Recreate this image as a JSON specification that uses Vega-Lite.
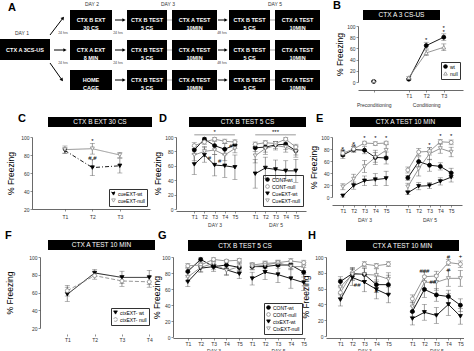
{
"$schema": "https://vega.github.io/schema/vega-lite/v6.json",
"padding": 0,
"background": "white",
"spacing": 3,
"resolve": {"scale": {"stroke": "independent", "fill": "independent", "shape": "independent", "strokeDash": "independent"}},
"config": {
 "font": "Liberation Sans",
 "view": {"stroke": null},
 "axis": {"grid": false, "labelFontSize": 5, "labelColor": "#333", "titleFontSize": 8.5, "titleFontWeight": "normal", "titleColor": "#000", "tickSize": 2, "labelPadding": 1, "titlePadding": 2, "domainColor": "#444", "tickColor": "#444", "domainWidth": 0.8, "tickWidth": 0.6, "labelLineHeight": 8},
 "legend": {"orient": "bottom-right", "labelFontSize": 5, "symbolSize": 14, "rowPadding": 0, "padding": 2, "strokeColor": "#333", "offset": 3, "symbolStrokeWidth": 0.8, "labelOffset": 2}
},
"datasets": {
 "Abox": [
  {"x1":0,"x2":50,"y1":39,"y2":60,"xm":25,"ym":49.5,"label":"CTX A 3CS-US"},
  {"x1":70,"x2":112,"y1":10,"y2":30,"xm":91,"ym":20,"label":"CTX B EXT\n30 CS"},
  {"x1":127,"x2":167,"y1":10,"y2":30,"xm":147,"ym":20,"label":"CTX B TEST\n5 CS"},
  {"x1":172,"x2":217,"y1":10,"y2":30,"xm":194.5,"ym":20,"label":"CTX A TEST\n10MIN"},
  {"x1":229,"x2":270,"y1":10,"y2":30,"xm":249.5,"ym":20,"label":"CTX B TEST\n5 CS"},
  {"x1":275,"x2":320,"y1":10,"y2":30,"xm":297.5,"ym":20,"label":"CTX A TEST\n10MIN"},
  {"x1":70,"x2":112,"y1":40,"y2":60,"xm":91,"ym":50,"label":"CTX A EXT\n8 MIN"},
  {"x1":127,"x2":167,"y1":40,"y2":60,"xm":147,"ym":50,"label":"CTX B TEST\n5 CS"},
  {"x1":172,"x2":217,"y1":40,"y2":60,"xm":194.5,"ym":50,"label":"CTX A TEST\n10MIN"},
  {"x1":229,"x2":270,"y1":40,"y2":60,"xm":249.5,"ym":50,"label":"CTX B TEST\n5 CS"},
  {"x1":275,"x2":320,"y1":40,"y2":60,"xm":297.5,"ym":50,"label":"CTX A TEST\n10MIN"},
  {"x1":70,"x2":112,"y1":70,"y2":90,"xm":91,"ym":80,"label":"HOME\nCAGE"},
  {"x1":127,"x2":167,"y1":70,"y2":90,"xm":147,"ym":80,"label":"CTX B TEST\n5 CS"},
  {"x1":172,"x2":217,"y1":70,"y2":90,"xm":194.5,"ym":80,"label":"CTX A TEST\n10MIN"},
  {"x1":229,"x2":270,"y1":70,"y2":90,"xm":249.5,"ym":80,"label":"CTX B TEST\n5 CS"},
  {"x1":275,"x2":320,"y1":70,"y2":90,"xm":297.5,"ym":80,"label":"CTX A TEST\n10MIN"}
 ],
 "Aarrow": [
  {"x1":50,"y1":35,"x2":63,"y2":18,"ang":38},
  {"x1":54,"y1":50,"x2":65,"y2":50,"ang":90},
  {"x1":50,"y1":63,"x2":62,"y2":80,"ang":144},
  {"x1":115,"y1":20,"x2":124,"y2":20,"ang":90},
  {"x1":115,"y1":50,"x2":124,"y2":50,"ang":90},
  {"x1":115,"y1":80,"x2":124,"y2":80,"ang":90},
  {"x1":218,"y1":20,"x2":226,"y2":20,"ang":90},
  {"x1":218,"y1":50,"x2":226,"y2":50,"ang":90},
  {"x1":218,"y1":80,"x2":226,"y2":80,"ang":90}
 ],
 "Aconn": [
  {"x1":167,"y1":20,"x2":172,"y2":20},
  {"x1":167,"y1":50,"x2":172,"y2":50},
  {"x1":167,"y1":80,"x2":172,"y2":80},
  {"x1":270,"y1":20,"x2":275,"y2":20},
  {"x1":270,"y1":50,"x2":275,"y2":50},
  {"x1":270,"y1":80,"x2":275,"y2":80}
 ],
 "Aday": [
  {"x":22,"y":33,"t":"DAY 1"},{"x":92,"y":3.5,"t":"DAY 2"},{"x":168,"y":3.5,"t":"DAY 3"},{"x":275,"y":3.5,"t":"DAY 5"}
 ],
 "Ahrs": [
  {"x":63,"y":33,"t":"24 hrs"},{"x":118,"y":33,"t":"24 hrs"},{"x":222,"y":33,"t":"48 hrs"},
  {"x":63,"y":63,"t":"24 hrs"},{"x":118,"y":63,"t":"24 hrs"},{"x":222,"y":63,"t":"48 hrs"}
 ],
 "B": [
  {"g":"wt","p":"pre","x":0,"m":1,"e":0.5},
  {"g":"wt","p":"cond","x":2,"m":5,"e":1.5},
  {"g":"wt","p":"cond","x":3,"m":65,"e":6},
  {"g":"wt","p":"cond","x":4,"m":80,"e":6},
  {"g":"null","p":"pre","x":0,"m":2,"e":0.5},
  {"g":"null","p":"cond","x":2,"m":8,"e":2},
  {"g":"null","p":"cond","x":3,"m":52,"e":5},
  {"g":"null","p":"cond","x":4,"m":62,"e":6}
 ],
 "C": [
  {"g":"cueEXT-wt","x":1,"m":85,"e":3},
  {"g":"cueEXT-wt","x":2,"m":66,"e":9},
  {"g":"cueEXT-wt","x":3,"m":68,"e":8},
  {"g":"cueEXT-null","x":1,"m":86,"e":4},
  {"g":"cueEXT-null","x":2,"m":87,"e":6},
  {"g":"cueEXT-null","x":3,"m":80,"e":3}
 ],
 "F": [
  {"g":"ctxEXT- wt","x":1,"m":58,"e":8},
  {"g":"ctxEXT- wt","x":2,"m":82,"e":4},
  {"g":"ctxEXT- wt","x":3,"m":77,"e":7},
  {"g":"ctxEXT- wt","x":4,"m":77,"e":8},
  {"g":"ctxEXT- null","x":1,"m":62,"e":6},
  {"g":"ctxEXT- null","x":2,"m":79,"e":4},
  {"g":"ctxEXT- null","x":3,"m":73,"e":6},
  {"g":"ctxEXT- null","x":4,"m":72,"e":6}
 ],
 "D": [
  {"g":"CONT-wt","d":3,"x":1,"m":82,"e":5},{"g":"CONT-wt","d":3,"x":2,"m":97,"e":2},{"g":"CONT-wt","d":3,"x":3,"m":88,"e":6},{"g":"CONT-wt","d":3,"x":4,"m":83,"e":8},{"g":"CONT-wt","d":3,"x":5,"m":89,"e":5},
  {"g":"CONT-null","d":3,"x":1,"m":88,"e":4},{"g":"CONT-null","d":3,"x":2,"m":93,"e":3},{"g":"CONT-null","d":3,"x":3,"m":97,"e":2},{"g":"CONT-null","d":3,"x":4,"m":94,"e":3},{"g":"CONT-null","d":3,"x":5,"m":93,"e":3},
  {"g":"CueEXT-wt","d":3,"x":1,"m":62,"e":14},{"g":"CueEXT-wt","d":3,"x":2,"m":75,"e":10},{"g":"CueEXT-wt","d":3,"x":3,"m":61,"e":15},{"g":"CueEXT-wt","d":3,"x":4,"m":60,"e":16},{"g":"CueEXT-wt","d":3,"x":5,"m":58,"e":17},
  {"g":"CueEXT-null","d":3,"x":1,"m":75,"e":8},{"g":"CueEXT-null","d":3,"x":2,"m":80,"e":7},{"g":"CueEXT-null","d":3,"x":3,"m":82,"e":6},{"g":"CueEXT-null","d":3,"x":4,"m":75,"e":8},{"g":"CueEXT-null","d":3,"x":5,"m":84,"e":6},
  {"g":"CONT-wt","d":5,"x":7,"m":85,"e":5},{"g":"CONT-wt","d":5,"x":8,"m":86,"e":7},{"g":"CONT-wt","d":5,"x":9,"m":89,"e":5},{"g":"CONT-wt","d":5,"x":10,"m":90,"e":7},{"g":"CONT-wt","d":5,"x":11,"m":81,"e":6},
  {"g":"CONT-null","d":5,"x":7,"m":90,"e":3},{"g":"CONT-null","d":5,"x":8,"m":92,"e":3},{"g":"CONT-null","d":5,"x":9,"m":91,"e":3},{"g":"CONT-null","d":5,"x":10,"m":97,"e":2},{"g":"CONT-null","d":5,"x":11,"m":86,"e":4},
  {"g":"CueEXT-wt","d":5,"x":7,"m":49,"e":20},{"g":"CueEXT-wt","d":5,"x":8,"m":57,"e":15},{"g":"CueEXT-wt","d":5,"x":9,"m":55,"e":13},{"g":"CueEXT-wt","d":5,"x":10,"m":53,"e":14},{"g":"CueEXT-wt","d":5,"x":11,"m":53,"e":16},
  {"g":"CueEXT-null","d":5,"x":7,"m":74,"e":10},{"g":"CueEXT-null","d":5,"x":8,"m":84,"e":8},{"g":"CueEXT-null","d":5,"x":9,"m":88,"e":6},{"g":"CueEXT-null","d":5,"x":10,"m":86,"e":7},{"g":"CueEXT-null","d":5,"x":11,"m":80,"e":8}
 ],
 "E": [
  {"g":"CONT-wt","d":3,"x":1,"m":70,"e":6},{"g":"CONT-wt","d":3,"x":2,"m":79,"e":5},{"g":"CONT-wt","d":3,"x":3,"m":78,"e":6},{"g":"CONT-wt","d":3,"x":4,"m":66,"e":8},{"g":"CONT-wt","d":3,"x":5,"m":65,"e":10},
  {"g":"CONT-null","d":3,"x":1,"m":73,"e":5},{"g":"CONT-null","d":3,"x":2,"m":80,"e":4},{"g":"CONT-null","d":3,"x":3,"m":90,"e":3},{"g":"CONT-null","d":3,"x":4,"m":89,"e":3},{"g":"CONT-null","d":3,"x":5,"m":90,"e":3},
  {"g":"CueEXT-wt","d":3,"x":1,"m":2,"e":2},{"g":"CueEXT-wt","d":3,"x":2,"m":19,"e":6},{"g":"CueEXT-wt","d":3,"x":3,"m":27,"e":8},{"g":"CueEXT-wt","d":3,"x":4,"m":29,"e":10},{"g":"CueEXT-wt","d":3,"x":5,"m":31,"e":12},
  {"g":"CueEXT-null","d":3,"x":1,"m":17,"e":5},{"g":"CueEXT-null","d":3,"x":2,"m":30,"e":8},{"g":"CueEXT-null","d":3,"x":3,"m":51,"e":10},{"g":"CueEXT-null","d":3,"x":4,"m":66,"e":12},{"g":"CueEXT-null","d":3,"x":5,"m":78,"e":10},
  {"g":"CONT-wt","d":5,"x":7,"m":32,"e":4},{"g":"CONT-wt","d":5,"x":8,"m":59,"e":8},{"g":"CONT-wt","d":5,"x":9,"m":53,"e":10},{"g":"CONT-wt","d":5,"x":10,"m":51,"e":6},{"g":"CONT-wt","d":5,"x":11,"m":40,"e":8},
  {"g":"CONT-null","d":5,"x":7,"m":45,"e":5},{"g":"CONT-null","d":5,"x":8,"m":75,"e":6},{"g":"CONT-null","d":5,"x":9,"m":76,"e":6},{"g":"CONT-null","d":5,"x":10,"m":92,"e":4},{"g":"CONT-null","d":5,"x":11,"m":91,"e":4},
  {"g":"CueEXT-wt","d":5,"x":7,"m":7,"e":3},{"g":"CueEXT-wt","d":5,"x":8,"m":18,"e":6},{"g":"CueEXT-wt","d":5,"x":9,"m":19,"e":5},{"g":"CueEXT-wt","d":5,"x":10,"m":26,"e":6},{"g":"CueEXT-wt","d":5,"x":11,"m":33,"e":8},
  {"g":"CueEXT-null","d":5,"x":7,"m":17,"e":6},{"g":"CueEXT-null","d":5,"x":8,"m":47,"e":12},{"g":"CueEXT-null","d":5,"x":9,"m":72,"e":10},{"g":"CueEXT-null","d":5,"x":10,"m":81,"e":8},{"g":"CueEXT-null","d":5,"x":11,"m":75,"e":8}
 ],
 "G": [
  {"g":"CONT-wt","d":3,"x":1,"m":82,"e":5},{"g":"CONT-wt","d":3,"x":2,"m":97,"e":2},{"g":"CONT-wt","d":3,"x":3,"m":88,"e":4},{"g":"CONT-wt","d":3,"x":4,"m":90,"e":5},{"g":"CONT-wt","d":3,"x":5,"m":87,"e":5},
  {"g":"CONT-null","d":3,"x":1,"m":89,"e":3},{"g":"CONT-null","d":3,"x":2,"m":90,"e":3},{"g":"CONT-null","d":3,"x":3,"m":97,"e":2},{"g":"CONT-null","d":3,"x":4,"m":95,"e":2},{"g":"CONT-null","d":3,"x":5,"m":96,"e":2},
  {"g":"ctxEXT-wt","d":3,"x":1,"m":69,"e":6},{"g":"ctxEXT-wt","d":3,"x":2,"m":86,"e":5},{"g":"ctxEXT-wt","d":3,"x":3,"m":88,"e":6},{"g":"ctxEXT-wt","d":3,"x":4,"m":84,"e":6},{"g":"ctxEXT-wt","d":3,"x":5,"m":79,"e":6},
  {"g":"CtxEXT-null","d":3,"x":1,"m":75,"e":6},{"g":"CtxEXT-null","d":3,"x":2,"m":87,"e":5},{"g":"CtxEXT-null","d":3,"x":3,"m":92,"e":4},{"g":"CtxEXT-null","d":3,"x":4,"m":83,"e":6},{"g":"CtxEXT-null","d":3,"x":5,"m":88,"e":5},
  {"g":"CONT-wt","d":5,"x":6,"m":88,"e":4},{"g":"CONT-wt","d":5,"x":7,"m":88,"e":5},{"g":"CONT-wt","d":5,"x":8,"m":90,"e":4},{"g":"CONT-wt","d":5,"x":9,"m":90,"e":4},{"g":"CONT-wt","d":5,"x":10,"m":81,"e":6},
  {"g":"CONT-null","d":5,"x":6,"m":90,"e":3},{"g":"CONT-null","d":5,"x":7,"m":92,"e":3},{"g":"CONT-null","d":5,"x":8,"m":93,"e":3},{"g":"CONT-null","d":5,"x":9,"m":95,"e":3},{"g":"CONT-null","d":5,"x":10,"m":93,"e":3},
  {"g":"ctxEXT-wt","d":5,"x":6,"m":73,"e":8},{"g":"ctxEXT-wt","d":5,"x":7,"m":81,"e":9},{"g":"ctxEXT-wt","d":5,"x":8,"m":78,"e":10},{"g":"ctxEXT-wt","d":5,"x":9,"m":73,"e":12},{"g":"ctxEXT-wt","d":5,"x":10,"m":68,"e":10},
  {"g":"CtxEXT-null","d":5,"x":6,"m":88,"e":4},{"g":"CtxEXT-null","d":5,"x":7,"m":90,"e":4},{"g":"CtxEXT-null","d":5,"x":8,"m":93,"e":3},{"g":"CtxEXT-null","d":5,"x":9,"m":88,"e":4},{"g":"CtxEXT-null","d":5,"x":10,"m":88,"e":5}
 ],
 "H": [
  {"g":"CONT-wt","d":3,"x":1,"m":69,"e":6},{"g":"CONT-wt","d":3,"x":2,"m":79,"e":8},{"g":"CONT-wt","d":3,"x":3,"m":78,"e":8},{"g":"CONT-wt","d":3,"x":4,"m":65,"e":10},{"g":"CONT-wt","d":3,"x":5,"m":65,"e":12},
  {"g":"CONT-null","d":3,"x":1,"m":55,"e":6},{"g":"CONT-null","d":3,"x":2,"m":80,"e":5},{"g":"CONT-null","d":3,"x":3,"m":91,"e":3},{"g":"CONT-null","d":3,"x":4,"m":89,"e":3},{"g":"CONT-null","d":3,"x":5,"m":91,"e":3},
  {"g":"ctxEXT-wt","d":3,"x":1,"m":46,"e":8},{"g":"ctxEXT-wt","d":3,"x":2,"m":74,"e":10},{"g":"ctxEXT-wt","d":3,"x":3,"m":68,"e":12},{"g":"ctxEXT-wt","d":3,"x":4,"m":59,"e":12},{"g":"ctxEXT-wt","d":3,"x":5,"m":52,"e":10},
  {"g":"CtxEXT-null","d":3,"x":1,"m":62,"e":10},{"g":"CtxEXT-null","d":3,"x":2,"m":78,"e":8},{"g":"CtxEXT-null","d":3,"x":3,"m":78,"e":8},{"g":"CtxEXT-null","d":3,"x":4,"m":77,"e":8},{"g":"CtxEXT-null","d":3,"x":5,"m":72,"e":8},
  {"g":"CONT-wt","d":5,"x":7,"m":31,"e":6},{"g":"CONT-wt","d":5,"x":8,"m":59,"e":10},{"g":"CONT-wt","d":5,"x":9,"m":52,"e":8},{"g":"CONT-wt","d":5,"x":10,"m":50,"e":8},{"g":"CONT-wt","d":5,"x":11,"m":39,"e":8},
  {"g":"CONT-null","d":5,"x":7,"m":47,"e":5},{"g":"CONT-null","d":5,"x":8,"m":75,"e":6},{"g":"CONT-null","d":5,"x":9,"m":76,"e":6},{"g":"CONT-null","d":5,"x":10,"m":93,"e":4},{"g":"CONT-null","d":5,"x":11,"m":91,"e":4},
  {"g":"ctxEXT-wt","d":5,"x":7,"m":22,"e":8},{"g":"ctxEXT-wt","d":5,"x":8,"m":30,"e":10},{"g":"ctxEXT-wt","d":5,"x":9,"m":26,"e":10},{"g":"ctxEXT-wt","d":5,"x":10,"m":40,"e":14},{"g":"ctxEXT-wt","d":5,"x":11,"m":25,"e":10},
  {"g":"CtxEXT-null","d":5,"x":7,"m":37,"e":6},{"g":"CtxEXT-null","d":5,"x":8,"m":68,"e":8},{"g":"CtxEXT-null","d":5,"x":9,"m":68,"e":10},{"g":"CtxEXT-null","d":5,"x":10,"m":73,"e":10},{"g":"CtxEXT-null","d":5,"x":11,"m":73,"e":10}
 ]
},
"vconcat": [
 {"spacing": 28, "bounds": "flush", "resolve": {"scale": {"stroke": "independent", "fill": "independent", "shape": "independent", "strokeDash": "independent"}},
  "hconcat": [
  {"width": 330, "height": 84,
   "layer": [
    {"data": {"name": "Abox"}, "mark": {"type": "rect", "color": "black"},
     "encoding": {"x": {"field": "x1", "type": "quantitative", "scale": {"domain": [0, 330], "nice": false, "zero": false}, "axis": null}, "x2": {"field": "x2"},
      "y": {"field": "y1", "type": "quantitative", "scale": {"domain": [26, 110], "reverse": true, "nice": false, "zero": false}, "axis": null}, "y2": {"field": "y2"}}},
    {"data": {"name": "Abox"}, "mark": {"type": "text", "color": "white", "fontSize": 5.5, "fontWeight": "bold", "lineBreak": "\n", "lineHeight": 7.5, "baseline": "middle"},
     "encoding": {"x": {"field": "xm", "type": "quantitative"}, "y": {"field": "ym", "type": "quantitative"}, "text": {"field": "label"}}},
    {"data": {"name": "Aarrow"}, "mark": {"type": "rule", "color": "black", "strokeWidth": 1},
     "encoding": {"x": {"field": "x1", "type": "quantitative"}, "y": {"field": "y1", "type": "quantitative"}, "x2": {"field": "x2"}, "y2": {"field": "y2"}}},
    {"data": {"name": "Aarrow"}, "mark": {"type": "point", "shape": "triangle-up", "filled": true, "color": "black", "size": 14, "opacity": 1},
     "encoding": {"x": {"field": "x2", "type": "quantitative"}, "y": {"field": "y2", "type": "quantitative"}, "angle": {"field": "ang", "type": "quantitative", "scale": null}}},
    {"data": {"name": "Aconn"}, "mark": {"type": "rule", "color": "#888", "strokeWidth": 0.7},
     "encoding": {"x": {"field": "x1", "type": "quantitative"}, "y": {"field": "y1", "type": "quantitative"}, "x2": {"field": "x2"}, "y2": {"field": "y2"}}},
    {"data": {"name": "Aday"}, "mark": {"type": "text", "fontSize": 5, "color": "#333", "baseline": "middle"},
     "encoding": {"x": {"field": "x", "type": "quantitative"}, "y": {"field": "y", "type": "quantitative"}, "text": {"field": "t"}}},
    {"data": {"name": "Ahrs"}, "mark": {"type": "text", "fontSize": 3.5, "color": "#444", "baseline": "middle"},
     "encoding": {"x": {"field": "x", "type": "quantitative"}, "y": {"field": "y", "type": "quantitative"}, "text": {"field": "t"}}},
    {"data": {"values": [{"x": 8, "y": 8, "t": "A"}]}, "mark": {"type": "text", "fontSize": 11, "fontWeight": "bold", "align": "left", "baseline": "middle"},
     "encoding": {"x": {"field": "x", "type": "quantitative"}, "y": {"field": "y", "type": "quantitative"}, "text": {"field": "t"}}}
   ]},
  {"width": 105, "height": 56,
   "resolve": {"scale": {"x": "independent", "y": "independent"}},
   "layer": [
    {"data": {"name": "B"},
     "encoding": {
      "x": {"field": "x", "type": "quantitative", "scale": {"domain": [-0.9, 5.1], "nice": false, "zero": false}, "axis": {"values": [0, 2, 3, 4], "labelExpr": "datum.value == 0 ? ['', 'Preconditioning'] : datum.value == 3 ? ['T2', 'Conditioning'] : 'T' + (datum.value - 1)", "title": null, "offset": 8, "labelLineHeight": 9}},
      "y": {"field": "m", "type": "quantitative", "scale": {"domain": [0, 100], "nice": false}, "axis": {"values": [0, 20, 40, 60, 80, 100], "title": "% Freezing"}}},
     "layer": [
      {"mark": {"type": "errorbar", "ticks": true, "color": "#555", "thickness": 0.6}, "encoding": {"yError": {"field": "e"}}},
      {"mark": {"type": "line", "strokeWidth": 0.9}, "encoding": {"detail": {"field": "p"}, "stroke": {"field": "g", "type": "nominal", "scale": {"domain": ["wt", "null"], "range": ["#000", "#8a8a8a"]}, "legend": {"title": null}}}},
      {"mark": {"type": "point", "size": 16, "strokeWidth": 0.8, "opacity": 1}, "encoding": {
       "stroke": {"field": "g", "type": "nominal", "scale": {"domain": ["wt", "null"], "range": ["#000", "#8a8a8a"]}, "legend": {"title": null}},
       "fill": {"field": "g", "type": "nominal", "scale": {"domain": ["wt", "null"], "range": ["#000", "#fff"]}, "legend": {"title": null}},
       "shape": {"field": "g", "type": "nominal", "scale": {"domain": ["wt", "null"], "range": ["circle", "triangle-up"]}, "legend": {"title": null}}}},
      {"data": {"values": [{"x": 3, "m": 75, "t": "*"}, {"x": 4, "m": 97, "t": "*"}, {"x": 4, "m": 90, "t": "*"}]}, "mark": {"type": "text", "fontSize": 6}, "encoding": {"text": {"field": "t"}}}
     ]},
    {"data": {"values": [{"lx": -25, "ly": -20, "a": "B", "x1": 5, "x2": 82, "y1": -16, "y2": -6, "xm": 43.5, "ym": -11, "t": "CTX A 3 CS-US"}]},
     "layer": [
      {"mark": {"type": "rect", "color": "black"}, "encoding": {"x": {"field": "x1", "type": "quantitative", "scale": {"domain": [0, 105], "nice": false, "zero": false}, "axis": null}, "x2": {"field": "x2"}, "y": {"field": "y1", "type": "quantitative", "scale": {"domain": [0, 56], "reverse": true, "nice": false, "zero": false}, "axis": null}, "y2": {"field": "y2"}}},
      {"mark": {"type": "text", "color": "white", "fontSize": 6.5, "baseline": "middle"}, "encoding": {"x": {"field": "xm", "type": "quantitative", "scale": {"domain": [0, 105], "nice": false, "zero": false}, "axis": null}, "y": {"field": "ym", "type": "quantitative", "scale": {"domain": [0, 56], "reverse": true, "nice": false, "zero": false}, "axis": null}, "text": {"field": "t"}}},
      {"mark": {"type": "text", "fontSize": 11, "fontWeight": "bold", "align": "left", "baseline": "middle"}, "encoding": {"x": {"field": "lx", "type": "quantitative", "scale": {"domain": [0, 105], "nice": false, "zero": false}, "axis": null}, "y": {"field": "ly", "type": "quantitative", "scale": {"domain": [0, 56], "reverse": true, "nice": false, "zero": false}, "axis": null}, "text": {"field": "a"}}}
     ]}
   ]}
 ]},
 {"spacing": 26, "bounds": "flush", "resolve": {"scale": {"stroke": "independent", "fill": "independent", "shape": "independent", "strokeDash": "independent"}},
  "hconcat": [
  {"width": 6, "height": 1, "data": {"values": [{}]}, "mark": {"type": "point", "opacity": 0}},
  {"width": 118, "height": 72,
   "resolve": {"scale": {"x": "independent", "y": "independent"}},
   "layer": [
    {"data": {"name": "C"},
     "encoding": {
      "x": {"field": "x", "type": "quantitative", "scale": {"domain": [-0.2, 4.1], "nice": false, "zero": false}, "axis": {"values": [1, 2, 3], "labelExpr": "'T' + datum.value", "title": null, "labelPadding": 3}},
      "y": {"field": "m", "type": "quantitative", "scale": {"domain": [20, 100], "nice": false, "zero": false}, "axis": {"values": [20, 40, 60, 80, 100], "title": "% Freezing", "titlePadding": 5}}},
     "layer": [
      {"mark": {"type": "errorbar", "ticks": true, "color": "#555", "thickness": 0.6}, "encoding": {"yError": {"field": "e"}}},
      {"mark": {"type": "line", "strokeWidth": 0.9}, "encoding": {
       "stroke": {"field": "g", "type": "nominal", "scale": {"domain": ["cueEXT-wt", "cueEXT-null"], "range": ["#000", "#8a8a8a"]}, "legend": {"title": null}},
       "strokeDash": {"field": "g", "type": "nominal", "scale": {"domain": ["cueEXT-wt", "cueEXT-null"], "range": [[4, 2, 1, 2], [1, 0]]}, "legend": {"title": null}}}},
      {"mark": {"type": "point", "size": 16, "strokeWidth": 0.8, "opacity": 1}, "encoding": {
       "stroke": {"field": "g", "type": "nominal", "scale": {"domain": ["cueEXT-wt", "cueEXT-null"], "range": ["#000", "#8a8a8a"]}, "legend": {"title": null}},
       "fill": {"field": "g", "type": "nominal", "scale": {"domain": ["cueEXT-wt", "cueEXT-null"], "range": ["#000", "#fff"]}, "legend": {"title": null}},
       "shape": {"field": "g", "type": "nominal", "scale": {"domain": ["cueEXT-wt", "cueEXT-null"], "range": ["triangle-down", "triangle-down"]}, "legend": {"title": null}}}},
      {"data": {"values": [{"x": 2, "m": 77, "t": "#,#"}, {"x": 2, "m": 96, "t": "*"}]}, "mark": {"type": "text", "fontSize": 6}, "encoding": {"text": {"field": "t"}}}
     ]},
    {"data": {"values": [{"lx": -14, "ly": -18, "a": "C", "x1": 16, "x2": 120, "y1": -20, "y2": -10, "xm": 68, "ym": -15, "t": "CTX B EXT 30 CS"}]},
     "layer": [
      {"mark": {"type": "rect", "color": "black"}, "encoding": {"x": {"field": "x1", "type": "quantitative", "scale": {"domain": [0, 118], "nice": false, "zero": false}, "axis": null}, "x2": {"field": "x2"}, "y": {"field": "y1", "type": "quantitative", "scale": {"domain": [0, 72], "reverse": true, "nice": false, "zero": false}, "axis": null}, "y2": {"field": "y2"}}},
      {"mark": {"type": "text", "color": "white", "fontSize": 6.5, "baseline": "middle"}, "encoding": {"x": {"field": "xm", "type": "quantitative", "scale": {"domain": [0, 118], "nice": false, "zero": false}, "axis": null}, "y": {"field": "ym", "type": "quantitative", "scale": {"domain": [0, 72], "reverse": true, "nice": false, "zero": false}, "axis": null}, "text": {"field": "t"}}},
      {"mark": {"type": "text", "fontSize": 11, "fontWeight": "bold", "align": "left", "baseline": "middle"}, "encoding": {"x": {"field": "lx", "type": "quantitative", "scale": {"domain": [0, 118], "nice": false, "zero": false}, "axis": null}, "y": {"field": "ly", "type": "quantitative", "scale": {"domain": [0, 72], "reverse": true, "nice": false, "zero": false}, "axis": null}, "text": {"field": "a"}}}
     ]}
   ]},
  {"width": 130, "height": 72,
   "resolve": {"scale": {"x": "independent", "y": "independent"}},
   "layer": [
    {"data": {"name": "D"},
     "encoding": {
      "x": {"field": "x", "type": "quantitative", "scale": {"domain": [-0.8, 12], "nice": false, "zero": false}, "axis": {"values": [1, 2, 3, 4, 5, 7, 8, 9, 10, 11], "labelExpr": "datum.value == 3 ? ['T3', 'DAY 3'] : datum.value == 9 ? ['T3', 'DAY 5'] : 'T' + (datum.value > 6 ? datum.value - 6 : datum.value)", "title": null, "offset": 2, "labelLineHeight": 8}},
      "y": {"field": "m", "type": "quantitative", "scale": {"domain": [0, 100], "nice": false}, "axis": {"values": [0, 20, 40, 60, 80, 100], "title": "% Freezing"}}},
     "layer": [
      {"mark": {"type": "errorbar", "ticks": true, "color": "#555", "thickness": 0.6}, "encoding": {"yError": {"field": "e"}}},
      {"mark": {"type": "line", "strokeWidth": 0.9}, "encoding": {"detail": {"field": "d"},
       "stroke": {"field": "g", "type": "nominal", "scale": {"domain": ["CONT-wt", "CONT-null", "CueEXT-wt", "CueEXT-null"], "range": ["#000", "#8a8a8a", "#000", "#8a8a8a"]}, "legend": {"title": null}}}},
      {"mark": {"type": "point", "size": 16, "strokeWidth": 0.8, "opacity": 1}, "encoding": {
       "stroke": {"field": "g", "type": "nominal", "scale": {"domain": ["CONT-wt", "CONT-null", "CueEXT-wt", "CueEXT-null"], "range": ["#000", "#8a8a8a", "#000", "#8a8a8a"]}, "legend": {"title": null}},
       "fill": {"field": "g", "type": "nominal", "scale": {"domain": ["CONT-wt", "CONT-null", "CueEXT-wt", "CueEXT-null"], "range": ["#000", "#fff", "#000", "#fff"]}, "legend": {"title": null}},
       "shape": {"field": "g", "type": "nominal", "scale": {"domain": ["CONT-wt", "CONT-null", "CueEXT-wt", "CueEXT-null"], "range": ["circle", "circle", "triangle-down", "triangle-down"]}, "legend": {"title": null}}}},
      {"data": {"values": [{"x": 1, "x2": 5, "m": 103}, {"x": 7, "x2": 11, "m": 103}]}, "mark": {"type": "rule", "color": "#555", "strokeWidth": 0.6}, "encoding": {"x2": {"field": "x2"}}},
      {"data": {"values": [{"x": 3, "m": 107, "t": "*"}, {"x": 9, "m": 107, "t": "***"}, {"x": 2.5, "m": 71, "t": "#"}, {"x": 3.5, "m": 67, "t": "#"}, {"x": 4.6, "m": 87, "t": "#"}]}, "mark": {"type": "text", "fontSize": 6}, "encoding": {"text": {"field": "t"}}}
     ]},
    {"data": {"values": [{"lx": -17, "ly": -18, "a": "D", "x1": 13, "x2": 130, "y1": -20, "y2": -10, "xm": 71.5, "ym": -15, "t": "CTX B TEST 5 CS"}]},
     "layer": [
      {"mark": {"type": "rect", "color": "black"}, "encoding": {"x": {"field": "x1", "type": "quantitative", "scale": {"domain": [0, 130], "nice": false, "zero": false}, "axis": null}, "x2": {"field": "x2"}, "y": {"field": "y1", "type": "quantitative", "scale": {"domain": [0, 72], "reverse": true, "nice": false, "zero": false}, "axis": null}, "y2": {"field": "y2"}}},
      {"mark": {"type": "text", "color": "white", "fontSize": 6.5, "baseline": "middle"}, "encoding": {"x": {"field": "xm", "type": "quantitative", "scale": {"domain": [0, 130], "nice": false, "zero": false}, "axis": null}, "y": {"field": "ym", "type": "quantitative", "scale": {"domain": [0, 72], "reverse": true, "nice": false, "zero": false}, "axis": null}, "text": {"field": "t"}}},
      {"mark": {"type": "text", "fontSize": 11, "fontWeight": "bold", "align": "left", "baseline": "middle"}, "encoding": {"x": {"field": "lx", "type": "quantitative", "scale": {"domain": [0, 130], "nice": false, "zero": false}, "axis": null}, "y": {"field": "ly", "type": "quantitative", "scale": {"domain": [0, 72], "reverse": true, "nice": false, "zero": false}, "axis": null}, "text": {"field": "a"}}}
     ]}
   ]},
  {"width": 130, "height": 60,
   "resolve": {"scale": {"x": "independent", "y": "independent"}},
   "layer": [
    {"data": {"name": "E"},
     "encoding": {
      "x": {"field": "x", "type": "quantitative", "scale": {"domain": [0, 12], "nice": false, "zero": false}, "axis": {"values": [1, 2, 3, 4, 5, 7, 8, 9, 10, 11], "labelExpr": "datum.value == 3 ? ['T3', 'DAY 3'] : datum.value == 9 ? ['T3', 'DAY 5'] : 'T' + (datum.value > 6 ? datum.value - 6 : datum.value)", "title": null, "offset": 8, "labelLineHeight": 9}},
      "y": {"field": "m", "type": "quantitative", "scale": {"domain": [0, 100], "nice": false}, "axis": {"values": [0, 20, 40, 60, 80, 100], "title": "% Freezing"}}},
     "layer": [
      {"mark": {"type": "errorbar", "ticks": true, "color": "#555", "thickness": 0.6}, "encoding": {"yError": {"field": "e"}}},
      {"mark": {"type": "line", "strokeWidth": 0.9}, "encoding": {"detail": {"field": "d"},
       "stroke": {"field": "g", "type": "nominal", "scale": {"domain": ["CONT-wt", "CONT-null", "CueEXT-wt", "CueEXT-null"], "range": ["#000", "#8a8a8a", "#000", "#8a8a8a"]}, "legend": null}}},
      {"mark": {"type": "point", "size": 16, "strokeWidth": 0.8, "opacity": 1}, "encoding": {
       "stroke": {"field": "g", "type": "nominal", "scale": {"domain": ["CONT-wt", "CONT-null", "CueEXT-wt", "CueEXT-null"], "range": ["#000", "#8a8a8a", "#000", "#8a8a8a"]}, "legend": null},
       "fill": {"field": "g", "type": "nominal", "scale": {"domain": ["CONT-wt", "CONT-null", "CueEXT-wt", "CueEXT-null"], "range": ["#000", "#fff", "#000", "#fff"]}, "legend": null},
       "shape": {"field": "g", "type": "nominal", "scale": {"domain": ["CONT-wt", "CONT-null", "CueEXT-wt", "CueEXT-null"], "range": ["circle", "circle", "triangle-down", "triangle-down"]}, "legend": null}}},
      {"data": {"values": [{"x": 1, "m": 80, "t": "&"}, {"x": 2, "m": 88, "t": "&"}, {"x": 3, "m": 99, "t": "*"}, {"x": 4, "m": 99, "t": "*"}, {"x": 5, "m": 99, "t": "*"}, {"x": 9, "m": 86, "t": "*"}, {"x": 10, "m": 101, "t": "*"}, {"x": 11, "m": 101, "t": "*"}]}, "mark": {"type": "text", "fontSize": 6}, "encoding": {"text": {"field": "t"}}}
     ]},
    {"data": {"values": [{"lx": -16, "ly": -18, "a": "E", "x1": 18, "x2": 129, "y1": -20, "y2": -10, "xm": 73.5, "ym": -15, "t": "CTX A TEST 10 MIN"}]},
     "layer": [
      {"mark": {"type": "rect", "color": "black"}, "encoding": {"x": {"field": "x1", "type": "quantitative", "scale": {"domain": [0, 130], "nice": false, "zero": false}, "axis": null}, "x2": {"field": "x2"}, "y": {"field": "y1", "type": "quantitative", "scale": {"domain": [0, 60], "reverse": true, "nice": false, "zero": false}, "axis": null}, "y2": {"field": "y2"}}},
      {"mark": {"type": "text", "color": "white", "fontSize": 6.5, "baseline": "middle"}, "encoding": {"x": {"field": "xm", "type": "quantitative", "scale": {"domain": [0, 130], "nice": false, "zero": false}, "axis": null}, "y": {"field": "ym", "type": "quantitative", "scale": {"domain": [0, 60], "reverse": true, "nice": false, "zero": false}, "axis": null}, "text": {"field": "t"}}},
      {"mark": {"type": "text", "fontSize": 11, "fontWeight": "bold", "align": "left", "baseline": "middle"}, "encoding": {"x": {"field": "lx", "type": "quantitative", "scale": {"domain": [0, 130], "nice": false, "zero": false}, "axis": null}, "y": {"field": "ly", "type": "quantitative", "scale": {"domain": [0, 60], "reverse": true, "nice": false, "zero": false}, "axis": null}, "text": {"field": "a"}}}
     ]}
   ]}
 ]},
 {"spacing": 21, "bounds": "flush", "resolve": {"scale": {"stroke": "independent", "fill": "independent", "shape": "independent", "strokeDash": "independent"}},
  "hconcat": [
  {"width": 19, "height": 1, "data": {"values": [{}]}, "mark": {"type": "point", "opacity": 0}},
  {"width": 112, "height": 71,
   "resolve": {"scale": {"x": "independent", "y": "independent"}},
   "layer": [
    {"data": {"name": "F"},
     "encoding": {
      "x": {"field": "x", "type": "quantitative", "scale": {"domain": [0, 4.1], "nice": false, "zero": false}, "axis": {"values": [1, 2, 3, 4], "labelExpr": "'T' + datum.value", "title": null, "offset": 6, "domain": false}},
      "y": {"field": "m", "type": "quantitative", "scale": {"domain": [20, 100], "nice": false, "zero": false}, "axis": {"values": [20, 40, 60, 80, 100], "title": "% Freezing", "titlePadding": 14}}},
     "layer": [
      {"mark": {"type": "errorbar", "ticks": true, "color": "#555", "thickness": 0.6}, "encoding": {"yError": {"field": "e"}}},
      {"mark": {"type": "line", "strokeWidth": 0.9}, "encoding": {
       "stroke": {"field": "g", "type": "nominal", "scale": {"domain": ["ctxEXT- wt", "ctxEXT- null"], "range": ["#000", "#8a8a8a"]}, "legend": {"title": null}},
       "strokeDash": {"field": "g", "type": "nominal", "scale": {"domain": ["ctxEXT- wt", "ctxEXT- null"], "range": [[1, 0], [4, 2]]}, "legend": {"title": null}}}},
      {"mark": {"type": "point", "size": 16, "strokeWidth": 0.8, "opacity": 1}, "encoding": {
       "stroke": {"field": "g", "type": "nominal", "scale": {"domain": ["ctxEXT- wt", "ctxEXT- null"], "range": ["#000", "#8a8a8a"]}, "legend": {"title": null}},
       "fill": {"field": "g", "type": "nominal", "scale": {"domain": ["ctxEXT- wt", "ctxEXT- null"], "range": ["#000", "#fff"]}, "legend": {"title": null}},
       "shape": {"field": "g", "type": "nominal", "scale": {"domain": ["ctxEXT- wt", "ctxEXT- null"], "range": ["triangle-down", "circle"]}, "legend": {"title": null}}}}
     ]},
    {"data": {"values": [{"lx": -35, "ly": -21, "a": "F", "x1": 8, "x2": 115, "y1": -17, "y2": -7, "xm": 61.5, "ym": -12, "t": "CTX A TEST 10 MIN"}]},
     "layer": [
      {"mark": {"type": "rect", "color": "black"}, "encoding": {"x": {"field": "x1", "type": "quantitative", "scale": {"domain": [0, 112], "nice": false, "zero": false}, "axis": null}, "x2": {"field": "x2"}, "y": {"field": "y1", "type": "quantitative", "scale": {"domain": [0, 71], "reverse": true, "nice": false, "zero": false}, "axis": null}, "y2": {"field": "y2"}}},
      {"mark": {"type": "text", "color": "white", "fontSize": 6.5, "baseline": "middle"}, "encoding": {"x": {"field": "xm", "type": "quantitative", "scale": {"domain": [0, 112], "nice": false, "zero": false}, "axis": null}, "y": {"field": "ym", "type": "quantitative", "scale": {"domain": [0, 71], "reverse": true, "nice": false, "zero": false}, "axis": null}, "text": {"field": "t"}}},
      {"mark": {"type": "text", "fontSize": 11, "fontWeight": "bold", "align": "left", "baseline": "middle"}, "encoding": {"x": {"field": "lx", "type": "quantitative", "scale": {"domain": [0, 112], "nice": false, "zero": false}, "axis": null}, "y": {"field": "ly", "type": "quantitative", "scale": {"domain": [0, 71], "reverse": true, "nice": false, "zero": false}, "axis": null}, "text": {"field": "a"}}}
     ]}
   ]},
  {"width": 132, "height": 80,
   "resolve": {"scale": {"x": "independent", "y": "independent"}},
   "layer": [
    {"data": {"name": "G"},
     "encoding": {
      "x": {"field": "x", "type": "quantitative", "scale": {"domain": [-0.15, 10.1], "nice": false, "zero": false}, "axis": {"values": [1, 2, 3, 4, 5, 6, 7, 8, 9, 10], "labelExpr": "datum.value == 3 ? ['T3', 'DAY 3'] : datum.value == 8 ? ['T3', 'DAY 5'] : 'T' + (datum.value > 5 ? datum.value - 5 : datum.value)", "title": null, "offset": 1, "labelLineHeight": 7}},
      "y": {"field": "m", "type": "quantitative", "scale": {"domain": [0, 100], "nice": false}, "axis": {"values": [0, 20, 40, 60, 80, 100], "title": "% Freezing", "titlePadding": 0}}},
     "layer": [
      {"mark": {"type": "errorbar", "ticks": true, "color": "#555", "thickness": 0.6}, "encoding": {"yError": {"field": "e"}}},
      {"mark": {"type": "line", "strokeWidth": 0.9}, "encoding": {"detail": {"field": "d"},
       "stroke": {"field": "g", "type": "nominal", "scale": {"domain": ["CONT-wt", "CONT-null", "ctxEXT-wt", "CtxEXT-null"], "range": ["#000", "#8a8a8a", "#000", "#8a8a8a"]}, "legend": {"title": null}}}},
      {"mark": {"type": "point", "size": 16, "strokeWidth": 0.8, "opacity": 1}, "encoding": {
       "stroke": {"field": "g", "type": "nominal", "scale": {"domain": ["CONT-wt", "CONT-null", "ctxEXT-wt", "CtxEXT-null"], "range": ["#000", "#8a8a8a", "#000", "#8a8a8a"]}, "legend": {"title": null}},
       "fill": {"field": "g", "type": "nominal", "scale": {"domain": ["CONT-wt", "CONT-null", "ctxEXT-wt", "CtxEXT-null"], "range": ["#000", "#fff", "#000", "#fff"]}, "legend": {"title": null}},
       "shape": {"field": "g", "type": "nominal", "scale": {"domain": ["CONT-wt", "CONT-null", "ctxEXT-wt", "CtxEXT-null"], "range": ["circle", "circle", "triangle-down", "triangle-down"]}, "legend": {"title": null}}}}
     ]},
    {"data": {"values": [{"lx": -15, "ly": -21, "a": "G", "x1": 15, "x2": 129, "y1": -17, "y2": -6, "xm": 72, "ym": -11.5, "t": "CTX B TEST 5 CS"}]},
     "layer": [
      {"mark": {"type": "rect", "color": "black"}, "encoding": {"x": {"field": "x1", "type": "quantitative", "scale": {"domain": [0, 132], "nice": false, "zero": false}, "axis": null}, "x2": {"field": "x2"}, "y": {"field": "y1", "type": "quantitative", "scale": {"domain": [0, 80], "reverse": true, "nice": false, "zero": false}, "axis": null}, "y2": {"field": "y2"}}},
      {"mark": {"type": "text", "color": "white", "fontSize": 6.5, "baseline": "middle"}, "encoding": {"x": {"field": "xm", "type": "quantitative", "scale": {"domain": [0, 132], "nice": false, "zero": false}, "axis": null}, "y": {"field": "ym", "type": "quantitative", "scale": {"domain": [0, 80], "reverse": true, "nice": false, "zero": false}, "axis": null}, "text": {"field": "t"}}},
      {"mark": {"type": "text", "fontSize": 11, "fontWeight": "bold", "align": "left", "baseline": "middle"}, "encoding": {"x": {"field": "lx", "type": "quantitative", "scale": {"domain": [0, 132], "nice": false, "zero": false}, "axis": null}, "y": {"field": "ly", "type": "quantitative", "scale": {"domain": [0, 80], "reverse": true, "nice": false, "zero": false}, "axis": null}, "text": {"field": "a"}}}
     ]}
   ]},
  {"width": 138, "height": 79,
   "resolve": {"scale": {"x": "independent", "y": "independent"}},
   "layer": [
    {"data": {"name": "H"},
     "encoding": {
      "x": {"field": "x", "type": "quantitative", "scale": {"domain": [-0.2, 11.3], "nice": false, "zero": false}, "axis": {"values": [1, 2, 3, 4, 5, 7, 8, 9, 10, 11], "labelExpr": "datum.value == 3 ? ['T3', 'DAY 3'] : datum.value == 9 ? ['T3', 'DAY 5'] : 'T' + (datum.value > 6 ? datum.value - 6 : datum.value)", "title": null, "offset": 2, "labelLineHeight": 7}},
      "y": {"field": "m", "type": "quantitative", "scale": {"domain": [0, 100], "nice": false}, "axis": {"values": [0, 20, 40, 60, 80, 100], "title": "% Freezing", "titlePadding": 4}}},
     "layer": [
      {"mark": {"type": "errorbar", "ticks": true, "color": "#555", "thickness": 0.6}, "encoding": {"yError": {"field": "e"}}},
      {"mark": {"type": "line", "strokeWidth": 0.9}, "encoding": {"detail": {"field": "d"},
       "stroke": {"field": "g", "type": "nominal", "scale": {"domain": ["CONT-wt", "CONT-null", "ctxEXT-wt", "CtxEXT-null"], "range": ["#000", "#8a8a8a", "#000", "#8a8a8a"]}, "legend": null}}},
      {"mark": {"type": "point", "size": 16, "strokeWidth": 0.8, "opacity": 1}, "encoding": {
       "stroke": {"field": "g", "type": "nominal", "scale": {"domain": ["CONT-wt", "CONT-null", "ctxEXT-wt", "CtxEXT-null"], "range": ["#000", "#8a8a8a", "#000", "#8a8a8a"]}, "legend": null},
       "fill": {"field": "g", "type": "nominal", "scale": {"domain": ["CONT-wt", "CONT-null", "ctxEXT-wt", "CtxEXT-null"], "range": ["#000", "#fff", "#000", "#fff"]}, "legend": null},
       "shape": {"field": "g", "type": "nominal", "scale": {"domain": ["CONT-wt", "CONT-null", "ctxEXT-wt", "CtxEXT-null"], "range": ["circle", "circle", "triangle-down", "triangle-down"]}, "legend": null}}},
      {"data": {"values": [{"x": 2.4, "m": 64, "t": "##"}, {"x": 4, "m": 57, "t": "#"}, {"x": 8, "m": 82, "t": "###"}, {"x": 8.7, "m": 68, "t": "##"}, {"x": 10, "m": 100, "t": "#"}, {"x": 10, "m": 84, "t": "#"}, {"x": 11, "m": 101, "t": "+"}]}, "mark": {"type": "text", "fontSize": 6}, "encoding": {"text": {"field": "t"}}}
     ]},
    {"data": {"values": [{"lx": -18, "ly": -21, "a": "H", "x1": 20, "x2": 133, "y1": -17, "y2": -6, "xm": 76.5, "ym": -11.5, "t": "CTX A TEST 10 MIN"}]},
     "layer": [
      {"mark": {"type": "rect", "color": "black"}, "encoding": {"x": {"field": "x1", "type": "quantitative", "scale": {"domain": [0, 138], "nice": false, "zero": false}, "axis": null}, "x2": {"field": "x2"}, "y": {"field": "y1", "type": "quantitative", "scale": {"domain": [0, 79], "reverse": true, "nice": false, "zero": false}, "axis": null}, "y2": {"field": "y2"}}},
      {"mark": {"type": "text", "color": "white", "fontSize": 6.5, "baseline": "middle"}, "encoding": {"x": {"field": "xm", "type": "quantitative", "scale": {"domain": [0, 138], "nice": false, "zero": false}, "axis": null}, "y": {"field": "ym", "type": "quantitative", "scale": {"domain": [0, 79], "reverse": true, "nice": false, "zero": false}, "axis": null}, "text": {"field": "t"}}},
      {"mark": {"type": "text", "fontSize": 11, "fontWeight": "bold", "align": "left", "baseline": "middle"}, "encoding": {"x": {"field": "lx", "type": "quantitative", "scale": {"domain": [0, 138], "nice": false, "zero": false}, "axis": null}, "y": {"field": "ly", "type": "quantitative", "scale": {"domain": [0, 79], "reverse": true, "nice": false, "zero": false}, "axis": null}, "text": {"field": "a"}}}
     ]}
   ]}
 ]}
]
}
